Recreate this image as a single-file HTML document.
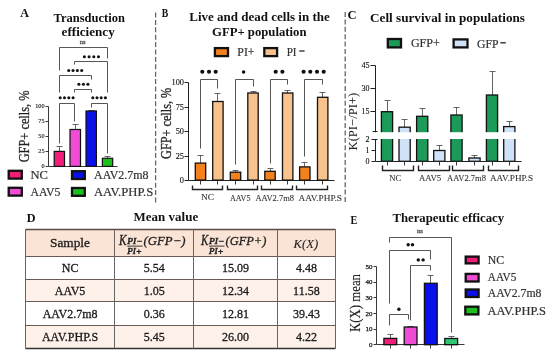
<!DOCTYPE html><html><head><meta charset="utf-8"><style>html,body{margin:0;padding:0;background:#fff;}svg{display:block;}</style></head><body>
<svg style="will-change:transform" width="550" height="354" viewBox="0 0 550 354" font-family="&quot;Liberation Serif&quot;, serif">
<rect width="550" height="354" fill="#fff"/>
<path d="M155.6,12.5 V203" fill="none" stroke="#666" stroke-width="1.3" stroke-dasharray="5 2.4"/>
<path d="M345.2,12 V203.5" fill="none" stroke="#666" stroke-width="1.3" stroke-dasharray="5 2.4"/>
<text x="20.2" y="16.8" font-size="12.5" font-weight="bold" fill="#111" textLength="8.7" lengthAdjust="spacingAndGlyphs">A</text>
<text x="161.7" y="17.0" font-size="12.5" font-weight="bold" fill="#111" textLength="6.5" lengthAdjust="spacingAndGlyphs">B</text>
<text x="347.6" y="19.2" font-size="12.5" font-weight="bold" fill="#111" textLength="9.1" lengthAdjust="spacingAndGlyphs">C</text>
<text x="26.7" y="222.3" font-size="12.5" font-weight="bold" fill="#111" textLength="8.8" lengthAdjust="spacingAndGlyphs">D</text>
<text x="350.4" y="224.4" font-size="12.5" font-weight="bold" fill="#111" textLength="6.8" lengthAdjust="spacingAndGlyphs">E</text>
<text x="53.6" y="22.4" font-size="12.5" font-weight="bold" fill="#111" textLength="71.3" lengthAdjust="spacingAndGlyphs">Transduction</text>
<text x="61.6" y="36.3" font-size="12.5" font-weight="bold" fill="#111" textLength="53.1" lengthAdjust="spacingAndGlyphs">efficiency</text>
<text x="79.8" y="44.2" font-size="5.5" font-weight="normal" fill="#555" stroke="#555" stroke-width="0.3" textLength="5.8" lengthAdjust="spacingAndGlyphs">ns</text>
<path d="M59.5,70.5 V47.5 H107.5 V58.5" fill="none" stroke="#444" stroke-width="0.9"/>
<circle cx="84.40" cy="56.70" r="1.53" fill="#111"/>
<circle cx="89.10" cy="56.70" r="1.53" fill="#111"/>
<circle cx="93.80" cy="56.70" r="1.53" fill="#111"/>
<circle cx="98.50" cy="56.70" r="1.53" fill="#111"/>
<path d="M74.5,64.5 V61.5 H107.5 V92.5" fill="none" stroke="#444" stroke-width="0.9"/>
<circle cx="68.70" cy="70.50" r="1.53" fill="#111"/>
<circle cx="73.03" cy="70.50" r="1.53" fill="#111"/>
<circle cx="77.37" cy="70.50" r="1.53" fill="#111"/>
<circle cx="81.70" cy="70.50" r="1.53" fill="#111"/>
<path d="M59.5,92.5 V75.5 H91.5 V79.5" fill="none" stroke="#444" stroke-width="0.9"/>
<circle cx="78.90" cy="84.20" r="1.53" fill="#111"/>
<circle cx="83.40" cy="84.20" r="1.53" fill="#111"/>
<circle cx="87.90" cy="84.20" r="1.53" fill="#111"/>
<path d="M74.5,92.5 V89.5 H91.5 V92.5" fill="none" stroke="#444" stroke-width="0.9"/>
<circle cx="60.20" cy="97.70" r="1.53" fill="#111"/>
<circle cx="64.50" cy="97.70" r="1.53" fill="#111"/>
<circle cx="68.80" cy="97.70" r="1.53" fill="#111"/>
<circle cx="73.10" cy="97.70" r="1.53" fill="#111"/>
<path d="M59.5,143.5 V103.5 H74.5 V121.5" fill="none" stroke="#444" stroke-width="0.9"/>
<circle cx="92.80" cy="97.70" r="1.53" fill="#111"/>
<circle cx="97.00" cy="97.70" r="1.53" fill="#111"/>
<circle cx="101.20" cy="97.70" r="1.53" fill="#111"/>
<circle cx="105.40" cy="97.70" r="1.53" fill="#111"/>
<path d="M91.5,107.5 V103.5 H107.5 V153.5" fill="none" stroke="#444" stroke-width="0.9"/>
<path d="M45.5,106.5 H48.5 V166.5 H117.5 M45.5,121.5 H48.5 M45.5,136.5 H48.5 M45.5,151.5 H48.5 M45.5,166.5 H48.5" fill="none" stroke="#222" stroke-width="0.9"/>
<text x="44.5" y="108.0" font-size="6.2" text-anchor="end" fill="#111" stroke="#111" stroke-width="0.12">100</text>
<text x="44.5" y="123.1" font-size="6.2" text-anchor="end" fill="#111" stroke="#111" stroke-width="0.12">75</text>
<text x="44.5" y="138.2" font-size="6.2" text-anchor="end" fill="#111" stroke="#111" stroke-width="0.12">50</text>
<text x="44.5" y="153.3" font-size="6.2" text-anchor="end" fill="#111" stroke="#111" stroke-width="0.12">25</text>
<text x="44.5" y="168.4" font-size="6.2" text-anchor="end" fill="#111" stroke="#111" stroke-width="0.12">0</text>
<text transform="translate(28.6,162.3) rotate(-90)" x="0" y="0" font-size="14.5" fill="#222" stroke="#222" stroke-width="0.3" textLength="71.8" lengthAdjust="spacingAndGlyphs">GFP+ cells, %</text>
<path d="M59.5,151.5 V146.5 M56.5,146.5 H62.5" fill="none" stroke="#555" stroke-width="0.9"/>
<rect x="54.2" y="151.4" width="10.3" height="15.0" fill="#f01e78" stroke="#111" stroke-width="1.2"/>
<path d="M75.5,129.5 V124.5 M72.5,124.5 H78.5" fill="none" stroke="#555" stroke-width="0.9"/>
<rect x="70.0" y="129.5" width="10.5" height="36.9" fill="#f04cd6" stroke="#111" stroke-width="1.2"/>
<path d="M91.5,111.5 V110.5 M88.5,110.5 H94.5" fill="none" stroke="#555" stroke-width="0.9"/>
<rect x="86.0" y="111.0" width="10.4" height="55.4" fill="#0a10ec" stroke="#111" stroke-width="1.2"/>
<path d="M107.5,158.5 V156.5 M104.5,156.5 H110.5" fill="none" stroke="#555" stroke-width="0.9"/>
<rect x="102.4" y="158.3" width="10.3" height="8.1" fill="#1cc01c" stroke="#111" stroke-width="1.2"/>
<rect x="8.7" y="170.8" width="13.1" height="7.8" fill="#f01e78" stroke="#111" stroke-width="2.3"/>
<text x="30.5" y="178.8" font-size="11.5" font-weight="normal" fill="#333" stroke="#333" stroke-width="0.2" textLength="17.5" lengthAdjust="spacingAndGlyphs">NC</text>
<rect x="8.7" y="187.8" width="13.1" height="7.8" fill="#f04cd6" stroke="#111" stroke-width="2.3"/>
<text x="30.5" y="195.8" font-size="11.5" font-weight="normal" fill="#333" stroke="#333" stroke-width="0.2" textLength="29.9" lengthAdjust="spacingAndGlyphs">AAV5</text>
<rect x="72.0" y="171.2" width="12.8" height="7.8" fill="#0a10ec" stroke="#111" stroke-width="2.3"/>
<text x="94.0" y="179.2" font-size="11.5" font-weight="normal" fill="#333" stroke="#333" stroke-width="0.2" textLength="54.6" lengthAdjust="spacingAndGlyphs">AAV2.7m8</text>
<rect x="72.0" y="188.0" width="12.8" height="7.8" fill="#1cc01c" stroke="#111" stroke-width="2.3"/>
<text x="94.0" y="195.8" font-size="11.5" font-weight="normal" fill="#333" stroke="#333" stroke-width="0.2" textLength="59.2" lengthAdjust="spacingAndGlyphs">AAV.PHP.S</text>
<text x="189.3" y="21.0" font-size="12.5" font-weight="bold" fill="#111" textLength="140.5" lengthAdjust="spacingAndGlyphs">Live and dead cells in the</text>
<text x="212.0" y="35.5" font-size="12.5" font-weight="bold" fill="#111" textLength="94.5" lengthAdjust="spacingAndGlyphs">GFP+ population</text>
<rect x="214.9" y="48.1" width="13.1" height="8.0" fill="#f5801e" stroke="#111" stroke-width="2.3"/>
<text x="237.3" y="56.0" font-size="11.5" font-weight="normal" fill="#333" stroke="#333" stroke-width="0.2" textLength="17.2" lengthAdjust="spacingAndGlyphs">PI+</text>
<rect x="264.3" y="48.1" width="12.8" height="8.0" fill="#f8c28c" stroke="#111" stroke-width="2.3"/>
<text x="286.7" y="56.1" font-size="11.5" font-weight="normal" fill="#333" stroke="#333" stroke-width="0.2" textLength="9.8" lengthAdjust="spacingAndGlyphs">PI</text>
<path d="M299.3,51 H304.6" stroke="#333" stroke-width="1.4"/>
<circle cx="202.30" cy="71.80" r="2.07" fill="#111"/>
<circle cx="209.00" cy="71.80" r="2.07" fill="#111"/>
<circle cx="215.70" cy="71.80" r="2.07" fill="#111"/>
<circle cx="243.60" cy="72.00" r="1.80" fill="#111"/>
<circle cx="275.70" cy="71.80" r="2.07" fill="#111"/>
<circle cx="282.40" cy="71.80" r="2.07" fill="#111"/>
<circle cx="303.60" cy="71.80" r="2.07" fill="#111"/>
<circle cx="310.30" cy="71.80" r="2.07" fill="#111"/>
<circle cx="317.00" cy="71.80" r="2.07" fill="#111"/>
<circle cx="323.70" cy="71.80" r="2.07" fill="#111"/>
<path d="M200.5,148.5 V79.5 H217.5 V88.5" fill="none" stroke="#444" stroke-width="0.9"/>
<path d="M235.5,164.5 V79.5 H253.5 V86.5" fill="none" stroke="#444" stroke-width="0.9"/>
<path d="M270.5,163.5 V79.5 H287.5 V84.5" fill="none" stroke="#444" stroke-width="0.9"/>
<path d="M304.5,156.5 V79.5 H322.5 V84.5" fill="none" stroke="#444" stroke-width="0.9"/>
<path d="M184.5,82.5 H188.5 V180.5 H334.5 M184.5,107.5 H188.5 M184.5,131.5 H188.5 M184.5,156.5 H188.5 M184.5,180.5 H188.5" fill="none" stroke="#222" stroke-width="1.0"/>
<text x="184" y="85.3" font-size="8.3" text-anchor="end" fill="#111" stroke="#111" stroke-width="0.12">100</text>
<text x="184" y="109.6" font-size="8.3" text-anchor="end" fill="#111" stroke="#111" stroke-width="0.12">75</text>
<text x="184" y="134.1" font-size="8.3" text-anchor="end" fill="#111" stroke="#111" stroke-width="0.12">50</text>
<text x="184" y="158.6" font-size="8.3" text-anchor="end" fill="#111" stroke="#111" stroke-width="0.12">25</text>
<text x="184" y="182.7" font-size="8.3" text-anchor="end" fill="#111" stroke="#111" stroke-width="0.12">0</text>
<text transform="translate(171.0,158.9) rotate(-90)" x="0" y="0" font-size="14.5" fill="#222" stroke="#222" stroke-width="0.3" textLength="71.1" lengthAdjust="spacingAndGlyphs">GFP+ cells, %</text>
<path d="M200.5,163.5 V155.5 M197.5,155.5 H203.5" fill="none" stroke="#555" stroke-width="0.9"/>
<rect x="195.3" y="163.1" width="10.4" height="17.0" fill="#f5801e" stroke="#111" stroke-width="1.3"/>
<path d="M200.5,180.5 V184.5" fill="none" stroke="#222" stroke-width="0.9"/>
<path d="M217.5,101.5 V93.5 M214.5,93.5 H220.5" fill="none" stroke="#555" stroke-width="0.9"/>
<rect x="212.7" y="101.5" width="10.4" height="78.6" fill="#f8c28c" stroke="#111" stroke-width="1.3"/>
<path d="M217.5,180.5 V184.5" fill="none" stroke="#222" stroke-width="0.9"/>
<path d="M235.5,172.5 V170.5 M232.5,170.5 H238.5" fill="none" stroke="#555" stroke-width="0.9"/>
<rect x="230.3" y="172.2" width="10.4" height="7.9" fill="#f5801e" stroke="#111" stroke-width="1.3"/>
<path d="M235.5,180.5 V184.5" fill="none" stroke="#222" stroke-width="0.9"/>
<path d="M253.5,93.5 V91.5 M250.5,91.5 H256.5" fill="none" stroke="#555" stroke-width="0.9"/>
<rect x="247.8" y="93.0" width="10.4" height="87.1" fill="#f8c28c" stroke="#111" stroke-width="1.3"/>
<path d="M253.5,180.5 V184.5" fill="none" stroke="#222" stroke-width="0.9"/>
<path d="M270.5,171.5 V168.5 M267.5,168.5 H273.5" fill="none" stroke="#555" stroke-width="0.9"/>
<rect x="264.8" y="171.3" width="10.4" height="8.8" fill="#f5801e" stroke="#111" stroke-width="1.3"/>
<path d="M270.5,180.5 V184.5" fill="none" stroke="#222" stroke-width="0.9"/>
<path d="M287.5,93.5 V90.5 M284.5,90.5 H290.5" fill="none" stroke="#555" stroke-width="0.9"/>
<rect x="282.5" y="93.0" width="10.4" height="87.1" fill="#f8c28c" stroke="#111" stroke-width="1.3"/>
<path d="M287.5,180.5 V184.5" fill="none" stroke="#222" stroke-width="0.9"/>
<path d="M304.5,166.5 V162.5 M301.5,162.5 H307.5" fill="none" stroke="#555" stroke-width="0.9"/>
<rect x="299.6" y="166.9" width="10.4" height="13.2" fill="#f5801e" stroke="#111" stroke-width="1.3"/>
<path d="M304.5,180.5 V184.5" fill="none" stroke="#222" stroke-width="0.9"/>
<path d="M322.5,97.5 V92.5 M319.5,92.5 H325.5" fill="none" stroke="#555" stroke-width="0.9"/>
<rect x="317.5" y="97.3" width="10.4" height="82.8" fill="#f8c28c" stroke="#111" stroke-width="1.3"/>
<path d="M322.5,180.5 V184.5" fill="none" stroke="#222" stroke-width="0.9"/>
<path d="M192.5,185.5 V189.5 H222.5 V185.5" fill="none" stroke="#222" stroke-width="1.4"/>
<path d="M227.5,185.5 V189.5 H257.5 V185.5" fill="none" stroke="#222" stroke-width="1.4"/>
<path d="M261.5,185.5 V189.5 H292.5 V185.5" fill="none" stroke="#222" stroke-width="1.4"/>
<path d="M296.5,185.5 V189.5 H327.5 V185.5" fill="none" stroke="#222" stroke-width="1.4"/>
<text x="201.0" y="200.0" font-size="8.5" font-weight="normal" fill="#333" stroke="#333" stroke-width="0.1" textLength="13.0" lengthAdjust="spacingAndGlyphs">NC</text>
<text x="230.0" y="200.5" font-size="8.5" font-weight="normal" fill="#333" stroke="#333" stroke-width="0.1" textLength="20.5" lengthAdjust="spacingAndGlyphs">AAV5</text>
<text x="255.4" y="200.5" font-size="8.5" font-weight="normal" fill="#333" stroke="#333" stroke-width="0.1" textLength="38.6" lengthAdjust="spacingAndGlyphs">AAV2.7m8</text>
<text x="298.5" y="200.5" font-size="8.5" font-weight="normal" fill="#333" stroke="#333" stroke-width="0.1" textLength="43.5" lengthAdjust="spacingAndGlyphs">AAV.PHP.S</text>
<text x="370.0" y="21.6" font-size="12.5" font-weight="bold" fill="#111" textLength="155.0" lengthAdjust="spacingAndGlyphs">Cell survival in populations</text>
<rect x="387.8" y="39.0" width="13.2" height="8.4" fill="#1c9a58" stroke="#111" stroke-width="2.3"/>
<text x="410.9" y="47.4" font-size="11.5" font-weight="normal" fill="#333" stroke="#333" stroke-width="0.2" textLength="28.9" lengthAdjust="spacingAndGlyphs">GFP+</text>
<rect x="453.6" y="39.4" width="13.9" height="8.0" fill="#d0e2f8" stroke="#111" stroke-width="2.3"/>
<text x="477.0" y="48.0" font-size="11.5" font-weight="normal" fill="#333" stroke="#333" stroke-width="0.2" textLength="21.5" lengthAdjust="spacingAndGlyphs">GFP</text>
<path d="M500.3,42.8 H505.8" stroke="#333" stroke-width="1.4"/>
<path d="M387.5,111.5 V100.5 M384.5,100.5 H390.5" fill="none" stroke="#555" stroke-width="0.9"/>
<rect x="381.4" y="111.7" width="11.2" height="49.6" fill="#1c9a58" stroke="#111" stroke-width="1.3"/>
<path d="M387.5,161.5 V165.5" fill="none" stroke="#222" stroke-width="0.9"/>
<path d="M404.5,127.5 V119.5 M401.5,119.5 H407.5" fill="none" stroke="#555" stroke-width="0.9"/>
<rect x="399.0" y="127.2" width="11.2" height="34.1" fill="#d0e2f8" stroke="#111" stroke-width="1.3"/>
<path d="M404.5,161.5 V165.5" fill="none" stroke="#222" stroke-width="0.9"/>
<path d="M422.5,116.5 V108.5 M419.5,108.5 H425.5" fill="none" stroke="#555" stroke-width="0.9"/>
<rect x="416.6" y="116.3" width="11.2" height="45.0" fill="#1c9a58" stroke="#111" stroke-width="1.3"/>
<path d="M422.5,161.5 V165.5" fill="none" stroke="#222" stroke-width="0.9"/>
<path d="M439.5,150.5 V145.5 M436.5,145.5 H442.5" fill="none" stroke="#555" stroke-width="0.9"/>
<rect x="433.7" y="150.5" width="11.2" height="10.8" fill="#d0e2f8" stroke="#111" stroke-width="1.3"/>
<path d="M439.5,161.5 V165.5" fill="none" stroke="#222" stroke-width="0.9"/>
<path d="M456.5,115.5 V107.5 M453.5,107.5 H459.5" fill="none" stroke="#555" stroke-width="0.9"/>
<rect x="450.9" y="115.0" width="11.2" height="46.3" fill="#1c9a58" stroke="#111" stroke-width="1.3"/>
<path d="M456.5,161.5 V165.5" fill="none" stroke="#222" stroke-width="0.9"/>
<path d="M474.5,158.5 V155.5 M471.5,155.5 H477.5" fill="none" stroke="#555" stroke-width="0.9"/>
<rect x="468.9" y="158.0" width="11.2" height="3.3" fill="#d0e2f8" stroke="#111" stroke-width="1.3"/>
<path d="M474.5,161.5 V165.5" fill="none" stroke="#222" stroke-width="0.9"/>
<path d="M492.5,95.5 V71.5 M489.5,71.5 H495.5" fill="none" stroke="#555" stroke-width="0.9"/>
<rect x="486.4" y="95.0" width="11.2" height="66.3" fill="#1c9a58" stroke="#111" stroke-width="1.3"/>
<path d="M492.5,161.5 V165.5" fill="none" stroke="#222" stroke-width="0.9"/>
<path d="M509.5,126.5 V121.5 M506.5,121.5 H512.5" fill="none" stroke="#555" stroke-width="0.9"/>
<rect x="503.7" y="126.6" width="11.2" height="34.7" fill="#d0e2f8" stroke="#111" stroke-width="1.3"/>
<path d="M509.5,161.5 V165.5" fill="none" stroke="#222" stroke-width="0.9"/>
<path d="M370.5,65.5 H375.5 V161.5 H521.5 M370.5,88.5 H375.5 M370.5,111.5 H375.5 M371.5,139.5 H375.5 M371.5,150.5 H375.5 M371.5,161.5 H375.5" fill="none" stroke="#222" stroke-width="1.0"/>
<rect x="366.0" y="132.2" width="156.0" height="6.8" fill="#fff"/>
<path d="M372.5,131.5 H377.5 M372.5,139.5 H377.5" fill="none" stroke="#222" stroke-width="1.0"/>
<text x="369.5" y="67.6" font-size="8.0" text-anchor="end" fill="#111" stroke="#111" stroke-width="0.12">45</text>
<text x="369.5" y="90.9" font-size="8.0" text-anchor="end" fill="#111" stroke="#111" stroke-width="0.12">30</text>
<text x="369.5" y="114.3" font-size="8.0" text-anchor="end" fill="#111" stroke="#111" stroke-width="0.12">15</text>
<text x="369.5" y="141.8" font-size="8.0" text-anchor="end" fill="#111" stroke="#111" stroke-width="0.12">2</text>
<text x="369.5" y="152.9" font-size="8.0" text-anchor="end" fill="#111" stroke="#111" stroke-width="0.12">1</text>
<text x="369.5" y="163.9" font-size="8.0" text-anchor="end" fill="#111" stroke="#111" stroke-width="0.12">0</text>
<text transform="translate(357.2,150.5) rotate(-90)" x="0" y="0" font-size="13.5" fill="#222" stroke="#222" stroke-width="0.05" textLength="57.8" lengthAdjust="spacingAndGlyphs">K(PI−/PI+)</text>
<path d="M382.5,165.5 V170.5 H413.5 V165.5" fill="none" stroke="#222" stroke-width="1.4"/>
<path d="M418.5,165.5 V170.5 H449.5 V165.5" fill="none" stroke="#222" stroke-width="1.4"/>
<path d="M452.5,165.5 V170.5 H483.5 V165.5" fill="none" stroke="#222" stroke-width="1.4"/>
<path d="M488.5,165.5 V170.5 H518.5 V165.5" fill="none" stroke="#222" stroke-width="1.4"/>
<text x="389.3" y="180.8" font-size="8.5" font-weight="normal" fill="#333" stroke="#333" stroke-width="0.1" textLength="11.8" lengthAdjust="spacingAndGlyphs">NC</text>
<text x="419.0" y="180.8" font-size="8.5" font-weight="normal" fill="#333" stroke="#333" stroke-width="0.1" textLength="22.2" lengthAdjust="spacingAndGlyphs">AAV5</text>
<text x="447.0" y="181.0" font-size="8.5" font-weight="normal" fill="#333" stroke="#333" stroke-width="0.1" textLength="39.0" lengthAdjust="spacingAndGlyphs">AAV2.7m8</text>
<text x="490.0" y="181.0" font-size="8.5" font-weight="normal" fill="#333" stroke="#333" stroke-width="0.1" textLength="43.0" lengthAdjust="spacingAndGlyphs">AAV.PHP.S</text>
<text x="133.6" y="221.0" font-size="12.5" font-weight="bold" fill="#111" textLength="64.6" lengthAdjust="spacingAndGlyphs">Mean value</text>
<rect x="25.5" y="229.3" width="310.1" height="27.1" fill="#fbe4d6"/>
<rect x="25.5" y="279.1" width="310.1" height="22.7" fill="#fdf1ea"/>
<rect x="25.5" y="325.5" width="310.1" height="23.1" fill="#fdf1ea"/>
<path d="M25.5,256.5 H335.5" fill="none" stroke="#6a5a55" stroke-width="1.0"/>
<path d="M25.5,279.5 H335.5" fill="none" stroke="#6a5a55" stroke-width="1.0"/>
<path d="M25.5,301.5 H335.5" fill="none" stroke="#6a5a55" stroke-width="1.0"/>
<path d="M25.5,325.5 H335.5" fill="none" stroke="#6a5a55" stroke-width="1.0"/>
<path d="M25.5,229.5 H335.5" fill="none" stroke="#5a4a45" stroke-width="1.3"/>
<path d="M25.5,348.5 H335.5" fill="none" stroke="#333" stroke-width="1.3"/>
<path d="M25.5,229.5 V348.5" fill="none" stroke="#666" stroke-width="1.0"/>
<path d="M114.5,229.5 V348.5" fill="none" stroke="#666" stroke-width="1.0"/>
<path d="M193.5,229.5 V348.5" fill="none" stroke="#666" stroke-width="1.0"/>
<path d="M277.5,229.5 V348.5" fill="none" stroke="#666" stroke-width="1.0"/>
<path d="M335.5,229.5 V348.5" fill="none" stroke="#666" stroke-width="1.0"/>
<text x="50.0" y="246.9" font-size="12" font-weight="normal" fill="#222" stroke="#222" stroke-width="0.3" textLength="40.0" lengthAdjust="spacingAndGlyphs">Sample</text>
<text x="119.0" y="245.0" font-size="14" font-weight="normal" fill="#222" stroke="#222" stroke-width="0.35" font-style="italic" textLength="7.5" lengthAdjust="spacingAndGlyphs">K</text>
<text x="127.3" y="244.4" font-size="8.5" font-weight="normal" fill="#222" stroke="#222" stroke-width="0.5" font-style="italic" textLength="15.4" lengthAdjust="spacingAndGlyphs">PI−</text>
<path d="M127.3,246.1 H142.7" stroke="#222" stroke-width="0.9"/>
<text x="127.3" y="254.2" font-size="8.5" font-weight="normal" fill="#222" stroke="#222" stroke-width="0.5" font-style="italic" textLength="14.7" lengthAdjust="spacingAndGlyphs">PI+</text>
<text x="143.6" y="244.6" font-size="13" font-weight="normal" fill="#222" stroke="#222" stroke-width="0.3" font-style="italic" textLength="41.9" lengthAdjust="spacingAndGlyphs">(GFP−)</text>
<text x="201.0" y="245.0" font-size="14" font-weight="normal" fill="#222" stroke="#222" stroke-width="0.35" font-style="italic" textLength="7.3" lengthAdjust="spacingAndGlyphs">K</text>
<text x="209.0" y="244.4" font-size="8.5" font-weight="normal" fill="#222" stroke="#222" stroke-width="0.5" font-style="italic" textLength="15.5" lengthAdjust="spacingAndGlyphs">PI−</text>
<path d="M209.0,246.1 H224.5" stroke="#222" stroke-width="0.9"/>
<text x="209.0" y="254.2" font-size="8.5" font-weight="normal" fill="#222" stroke="#222" stroke-width="0.5" font-style="italic" textLength="14.6" lengthAdjust="spacingAndGlyphs">PI+</text>
<text x="225.5" y="244.6" font-size="13" font-weight="normal" fill="#222" stroke="#222" stroke-width="0.3" font-style="italic" textLength="40.9" lengthAdjust="spacingAndGlyphs">(GFP+)</text>
<text x="293.6" y="248.2" font-size="12.5" font-weight="normal" fill="#222" stroke="#222" stroke-width="0.1" font-style="italic" textLength="24.6" lengthAdjust="spacingAndGlyphs">K(X)</text>
<text x="70.1" y="272.2" font-size="12" text-anchor="middle" fill="#1a1a1a" stroke="#1a1a1a" stroke-width="0.3">NC</text>
<text x="154.2" y="272.2" font-size="12" text-anchor="middle" fill="#1a1a1a" stroke="#1a1a1a" stroke-width="0.3">5.54</text>
<text x="235.4" y="272.2" font-size="12" text-anchor="middle" fill="#1a1a1a" stroke="#1a1a1a" stroke-width="0.3">15.09</text>
<text x="306.4" y="272.2" font-size="12" text-anchor="middle" fill="#1a1a1a" stroke="#1a1a1a" stroke-width="0.3">4.48</text>
<text x="70.1" y="295.0" font-size="12" text-anchor="middle" fill="#1a1a1a" stroke="#1a1a1a" stroke-width="0.3">AAV5</text>
<text x="154.2" y="295.0" font-size="12" text-anchor="middle" fill="#1a1a1a" stroke="#1a1a1a" stroke-width="0.3">1.05</text>
<text x="235.4" y="295.0" font-size="12" text-anchor="middle" fill="#1a1a1a" stroke="#1a1a1a" stroke-width="0.3">12.34</text>
<text x="306.4" y="295.0" font-size="12" text-anchor="middle" fill="#1a1a1a" stroke="#1a1a1a" stroke-width="0.3">11.58</text>
<text x="70.1" y="317.7" font-size="12" text-anchor="middle" fill="#1a1a1a" stroke="#1a1a1a" stroke-width="0.3">AAV2.7m8</text>
<text x="154.2" y="317.7" font-size="12" text-anchor="middle" fill="#1a1a1a" stroke="#1a1a1a" stroke-width="0.3">0.36</text>
<text x="235.4" y="317.7" font-size="12" text-anchor="middle" fill="#1a1a1a" stroke="#1a1a1a" stroke-width="0.3">12.81</text>
<text x="306.4" y="317.7" font-size="12" text-anchor="middle" fill="#1a1a1a" stroke="#1a1a1a" stroke-width="0.3">39.43</text>
<text x="70.1" y="340.5" font-size="12" text-anchor="middle" fill="#1a1a1a" stroke="#1a1a1a" stroke-width="0.3">AAV.PHP.S</text>
<text x="154.2" y="340.5" font-size="12" text-anchor="middle" fill="#1a1a1a" stroke="#1a1a1a" stroke-width="0.3">5.45</text>
<text x="235.4" y="340.5" font-size="12" text-anchor="middle" fill="#1a1a1a" stroke="#1a1a1a" stroke-width="0.3">26.00</text>
<text x="306.4" y="340.5" font-size="12" text-anchor="middle" fill="#1a1a1a" stroke="#1a1a1a" stroke-width="0.3">4.22</text>
<text x="392.4" y="222.2" font-size="12.5" font-weight="bold" fill="#111" textLength="111.8" lengthAdjust="spacingAndGlyphs">Therapeutic efficacy</text>
<text x="417.0" y="233.0" font-size="5.5" font-weight="normal" fill="#555" stroke="#555" stroke-width="0.3" textLength="6.0" lengthAdjust="spacingAndGlyphs">ns</text>
<path d="M389.5,242.5 V237.5 H451.5 V332.5" fill="none" stroke="#444" stroke-width="0.9"/>
<circle cx="408.20" cy="244.80" r="1.71" fill="#111"/>
<circle cx="412.50" cy="244.80" r="1.71" fill="#111"/>
<path d="M389.5,303.5 V250.5 H430.5 V259.5" fill="none" stroke="#444" stroke-width="0.9"/>
<circle cx="418.30" cy="259.90" r="1.71" fill="#111"/>
<circle cx="423.10" cy="259.90" r="1.71" fill="#111"/>
<path d="M410.5,320.5 V265.5 H430.5 V270.5" fill="none" stroke="#444" stroke-width="0.9"/>
<circle cx="398.90" cy="309.30" r="1.71" fill="#111"/>
<path d="M389.5,325.5 V314.5 H408.5 V319.5" fill="none" stroke="#444" stroke-width="0.9"/>
<path d="M373.5,266.5 H376.5 V344.5 H464.5 M373.5,282.5 H376.5 M373.5,297.5 H376.5 M373.5,313.5 H376.5 M373.5,329.5 H376.5 M373.5,344.5 H376.5" fill="none" stroke="#222" stroke-width="0.9"/>
<text x="372.5" y="268.7" font-size="7" text-anchor="end" fill="#111" stroke="#111" stroke-width="0.25">50</text>
<text x="372.5" y="284.1" font-size="7" text-anchor="end" fill="#111" stroke="#111" stroke-width="0.25">40</text>
<text x="372.5" y="299.7" font-size="7" text-anchor="end" fill="#111" stroke="#111" stroke-width="0.25">30</text>
<text x="372.5" y="315.5" font-size="7" text-anchor="end" fill="#111" stroke="#111" stroke-width="0.25">20</text>
<text x="372.5" y="331.1" font-size="7" text-anchor="end" fill="#111" stroke="#111" stroke-width="0.25">10</text>
<text x="372.5" y="346.8" font-size="7" text-anchor="end" fill="#111" stroke="#111" stroke-width="0.25">0</text>
<text transform="translate(360.3,332.0) rotate(-90)" x="0" y="0" font-size="15.0" fill="#222" stroke="#222" stroke-width="0.15" textLength="58.0" lengthAdjust="spacingAndGlyphs">K(X) mean</text>
<path d="M390.5,338.5 V334.5 M387.5,334.5 H393.5" fill="none" stroke="#555" stroke-width="0.9"/>
<rect x="383.9" y="338.4" width="12.8" height="6.3" fill="#f01e78" stroke="#111" stroke-width="1.3"/>
<path d="M390.5,344.5 V348.5" fill="none" stroke="#222" stroke-width="0.9"/>
<path d="M410.5,327.5 V326.5 M407.5,326.5 H413.5" fill="none" stroke="#555" stroke-width="0.9"/>
<rect x="404.2" y="327.0" width="12.8" height="17.7" fill="#f04cd6" stroke="#111" stroke-width="1.3"/>
<path d="M410.5,344.5 V348.5" fill="none" stroke="#222" stroke-width="0.9"/>
<path d="M430.5,283.5 V275.5 M427.5,275.5 H433.5" fill="none" stroke="#555" stroke-width="0.9"/>
<rect x="424.4" y="283.3" width="12.8" height="61.4" fill="#0a10ec" stroke="#111" stroke-width="1.3"/>
<path d="M430.5,344.5 V348.5" fill="none" stroke="#222" stroke-width="0.9"/>
<path d="M451.5,338.5 V336.5 M448.5,336.5 H454.5" fill="none" stroke="#555" stroke-width="0.9"/>
<rect x="444.8" y="338.5" width="12.8" height="6.2" fill="#2ec874" stroke="#111" stroke-width="1.3"/>
<path d="M451.5,344.5 V348.5" fill="none" stroke="#222" stroke-width="0.9"/>
<rect x="465.7" y="256.6" width="12.9" height="6.8" fill="#f01e78" stroke="#111" stroke-width="2.3"/>
<text x="487.8" y="263.8" font-size="11.5" font-weight="normal" fill="#333" stroke="#333" stroke-width="0.2" textLength="16.4" lengthAdjust="spacingAndGlyphs">NC</text>
<rect x="465.7" y="273.9" width="12.9" height="7.6" fill="#f04cd6" stroke="#111" stroke-width="2.3"/>
<text x="487.8" y="281.4" font-size="11.5" font-weight="normal" fill="#333" stroke="#333" stroke-width="0.2" textLength="28.5" lengthAdjust="spacingAndGlyphs">AAV5</text>
<rect x="465.7" y="289.5" width="12.9" height="7.5" fill="#0a10ec" stroke="#111" stroke-width="2.3"/>
<text x="487.8" y="297.0" font-size="11.5" font-weight="normal" fill="#333" stroke="#333" stroke-width="0.2" textLength="53.6" lengthAdjust="spacingAndGlyphs">AAV2.7m8</text>
<rect x="465.3" y="306.7" width="13.1" height="7.7" fill="#1cc01c" stroke="#111" stroke-width="2.3"/>
<text x="487.6" y="314.6" font-size="11.5" font-weight="normal" fill="#333" stroke="#333" stroke-width="0.2" textLength="58.4" lengthAdjust="spacingAndGlyphs">AAV.PHP.S</text>
</svg></body></html>
